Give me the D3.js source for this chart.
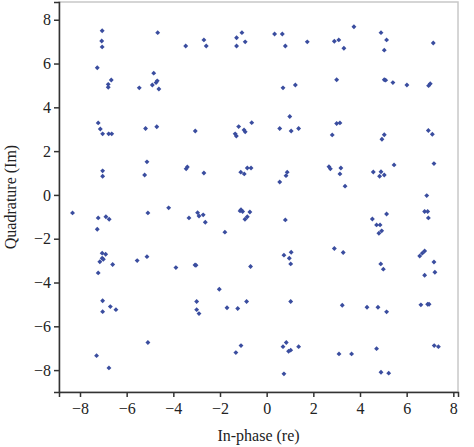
<!DOCTYPE html>
<html><head><meta charset="utf-8">
<script src="https://cdn.jsdelivr.net/npm/d3@7"></script>
<style>body{margin:0;background:#fff}</style></head>
<body><svg id="c" width="474" height="447"></svg>
<script>
const xs=[-7.05,-7.07,-7.05,-4.67,-3.47,-2.69,-2.59,-1.29,-1.06,-0.92,-1.29,-7.26,-6.66,-6.79,-6.79,-5.46,-4.84,-4.90,-4.74,-4.69,-4.62,-7.22,-7.13,-7.03,-6.77,-6.64,-5.19,-4.71,-3.06,-1.35,-1.30,-1.20,-0.97,-0.92,-0.64,-5.13,-7.03,-7.03,-5.23,-3.40,-3.45,-2.69,-1.11,-0.96,-0.83,-0.67,
0.34,0.67,0.80,1.74,3.74,2.90,3.09,3.31,4.90,5.14,5.04,7.14,0.70,1.23,3.00,5.04,5.10,5.41,6.01,6.94,7.01,0.99,0.56,1.05,1.37,3.00,3.14,2.81,5.04,4.94,6.93,7.10,0.56,0.83,0.88,2.67,2.73,3.18,3.14,3.36,4.57,4.90,4.84,5.04,5.46,7.17,6.86,
-8.32,-7.22,-6.89,-6.75,-7.26,-5.09,-4.20,-3.33,-2.96,-2.90,-2.72,-2.63,-1.79,-1.10,-1.03,-0.93,-0.83,-0.72,-1.14,-7.05,-6.90,-7.05,-7.15,-7.00,-6.60,-7.22,-5.55,-5.13,-3.89,-3.07,-3.03,-0.69,-2.03,-7.03,-7.03,-6.70,-6.46,-3.00,-3.00,-2.90,-1.70,-1.24,-0.86,-5.09,-7.29,-6.76,-1.32,-1.10,
0.80,4.53,5.14,4.71,4.86,4.81,4.93,6.77,6.90,6.93,0.74,1.05,0.97,1.03,2.90,3.28,4.89,5.00,6.56,6.67,6.77,7.17,7.21,6.77,1.03,3.24,4.30,4.77,5.14,6.61,6.90,6.96,0.84,0.70,0.94,1.03,1.37,3.10,3.64,4.71,7.18,7.36,0.74,4.90,5.23];
const ys=[7.50,7.03,6.76,7.41,6.80,7.08,6.80,7.18,7.41,6.99,6.80,5.81,5.25,5.05,4.92,4.89,5.56,5.02,5.13,5.21,4.84,3.29,3.01,2.79,2.79,2.79,3.03,3.11,2.92,2.79,2.69,3.12,2.97,2.88,3.30,1.51,1.10,0.85,0.91,1.28,1.19,1.00,1.04,0.96,1.23,1.23,
7.35,7.35,6.80,6.99,7.68,7.02,7.08,6.70,7.41,7.08,6.61,6.94,4.89,5.02,5.26,5.26,5.24,5.13,5.02,4.99,5.08,3.58,3.03,2.92,3.03,3.26,3.29,2.74,2.75,2.54,2.94,2.77,0.59,0.88,1.04,1.29,1.19,1.23,0.96,0.40,1.05,1.06,0.85,0.91,1.37,1.43,-0.03,
-0.82,-1.05,-1.00,-1.11,-1.57,-0.82,-0.59,-1.05,-0.81,-0.96,-0.91,-1.25,-1.70,-0.68,-0.76,-1.11,-1.00,-0.78,-0.73,-2.66,-2.71,-2.89,-3.05,-2.94,-3.18,-3.56,-3.00,-2.82,-3.32,-3.20,-3.21,-3.27,-4.31,-4.83,-5.33,-5.10,-5.24,-4.87,-5.24,-5.42,-5.15,-5.19,-4.87,-6.74,-7.34,-7.90,-7.20,-6.88,
-1.14,-1.10,-0.87,-1.37,-1.37,-1.75,-1.64,-0.76,-0.76,-1.05,-2.75,-2.62,-2.89,-3.15,-2.45,-2.63,-3.15,-3.39,-2.79,-2.66,-2.56,-3.06,-3.53,-3.67,-4.87,-5.04,-5.13,-5.13,-5.34,-5.02,-4.99,-4.99,-6.74,-6.93,-7.14,-7.09,-6.93,-7.26,-7.26,-7.02,-6.88,-6.93,-8.17,-8.10,-8.14];
const xTicks=[-8,-6,-4,-2,0,2,4,6,8];
const yTicks=[-8,-6,-4,-2,0,2,4,6,8];
const L=59,R=458,T=2,B=392;
const svg=d3.select("#c");
const x=d3.scaleLinear().domain([-8.90,8.20]).range([L,R]);
const y=d3.scaleLinear().domain([-9.0,8.81]).range([B,T]);
svg.append("rect").attr("x",L).attr("y",T).attr("width",R-L).attr("height",B-T).attr("fill","none").attr("stroke","#c8c8c8").attr("stroke-width",1.5);
const font="'Liberation Serif','Times New Roman',serif";
const gx=svg.append("g").attr("transform",`translate(0,${B})`).call(d3.axisBottom(x).tickValues(xTicks).tickSize(5).tickFormat(d=>d<0?"\u2212"+(-d):d));
const gy=svg.append("g").attr("transform",`translate(${L},0)`).call(d3.axisLeft(y).tickValues(yTicks).tickSize(5).tickFormat(d=>d<0?"\u2212"+(-d):d));
[gx,gy].forEach(g=>{g.select(".domain").attr("stroke","#333").attr("stroke-width",1.5);g.selectAll(".tick line").attr("stroke","#333").attr("stroke-width",1.5);g.selectAll("text").attr("font-family",font).attr("font-size",16).attr("fill","#222");});
gx.selectAll("text").attr("dy","0.85em");
svg.append("text").attr("x",(L+R)/2).attr("y",441).attr("text-anchor","middle").attr("font-family",font).attr("font-size",16).attr("fill","#222").text("In-phase (re)");
svg.append("text").attr("transform",`translate(16,${(T+B)/2}) rotate(-90)`).attr("text-anchor","middle").attr("font-family",font).attr("font-size",16).attr("fill","#222").text("Quadrature (Im)");
svg.append("g").selectAll("path").data(xs.map((v,i)=>[v,ys[i]])).join("path")
 .attr("transform",d=>`translate(${x(d[0])},${y(d[1])}) rotate(45)`)
 .attr("d",d3.symbol(d3.symbolSquare,12)).attr("fill","#3a4d9f");
</script></body></html>
